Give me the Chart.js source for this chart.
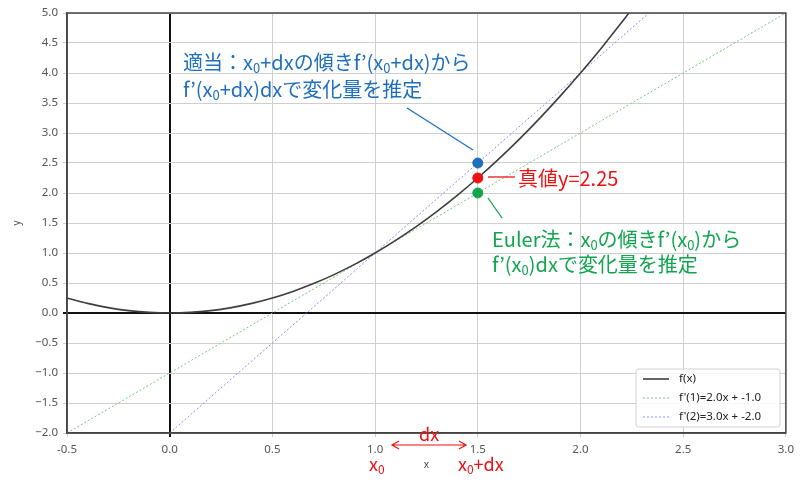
<!DOCTYPE html>
<html>
<head>
<meta charset="utf-8">
<script src="https://cdn.jsdelivr.net/npm/chart.js@4"></script>
<style>
  html, body { margin: 0; padding: 0; background: #fff; }
  #wrap { width: 800px; height: 486px; }
</style>
</head>
<body>
<div id="wrap"><canvas id="c" width="800" height="486"></canvas></div>
<script>
const curveX = [-0.5, -0.4, -0.3, -0.2, -0.1, 0.0, 0.1, 0.2, 0.3, 0.4, 0.5, 0.6, 0.7, 0.8, 0.9, 1.0,
  1.1, 1.2, 1.3, 1.4, 1.5, 1.6, 1.7, 1.8, 1.9, 2.0, 2.1, 2.2, 2.3];
const curveY = [0.25, 0.16, 0.09, 0.04, 0.01, 0.0, 0.01, 0.04, 0.09, 0.16, 0.25, 0.36, 0.49, 0.64, 0.81, 1.0,
  1.21, 1.44, 1.69, 1.96, 2.25, 2.56, 2.89, 3.24, 3.61, 4.0, 4.41, 4.84, 5.29];

// tangent lines (end points)
const eulerX = [-0.5, 3.0];
const eulerY = [-2.0, 5.0];
const midX = [0.0, 2.3333];
const midY = [-2.0, 5.0];

// marked points at x0+dx
const markX = [1.5, 1.5, 1.5];
const markY = [2.5, 2.25, 2.0];
const markColors = ['#1f6fbf', '#ee1111', '#12a550'];

const legendLabels = ['f(x)', "f'(1)=2.0x + -1.0", "f'(2)=3.0x + -2.0"];

const xTicks = [-0.5, 0.0, 0.5, 1.0, 1.5, 2.0, 2.5, 3.0];
const yTicks = [-2.0, -1.5, -1.0, -0.5, 0.0, 0.5, 1.0, 1.5, 2.0, 2.5, 3.0, 3.5, 4.0, 4.5, 5.0];

const zip = (xs, ys) => xs.map((x, i) => ({ x, y: ys[i] }));

const JP = '"Noto Sans CJK JP", "Noto Sans", sans-serif';
const BLUE = '#1f6fbf', RED = '#ee1111', GREEN = '#12a550';

// draw text pieces, second element true = subscript
function drawRich(ctx, parts, x, y, size, color) {
  ctx.save();
  ctx.fillStyle = color;
  ctx.textBaseline = 'middle';
  ctx.textAlign = 'left';
  let cx = x;
  for (const [t, sub] of parts) {
    ctx.font = (sub ? Math.round(size * 0.65) : size) + 'px ' + JP;
    ctx.fillText(t, cx, sub ? y + size * 0.3 : y);
    cx += ctx.measureText(t).width;
  }
  ctx.restore();
  return cx;
}

const decor = {
  id: 'decor',
  afterDatasetsDraw(chart) {
    const { ctx, chartArea: a, scales: { x, y } } = chart;
    ctx.save();
    // frame top/right
    ctx.strokeStyle = '#444';
    ctx.lineWidth = 1.5;
    ctx.strokeRect(a.left, a.top, a.right - a.left, a.bottom - a.top);

    // axis titles
    ctx.fillStyle = '#444';
    ctx.font = '10px "Noto Sans", sans-serif';
    ctx.textAlign = 'center';
    ctx.textBaseline = 'middle';
    ctx.fillText('x', x.getPixelForValue(1.25), 465);
    ctx.save();
    ctx.translate(17, y.getPixelForValue(1.5));
    ctx.rotate(-Math.PI / 2);
    ctx.fillText('y', 0, 0);
    ctx.restore();

    // legend
    const lx = 636, ly = 369, lw = 144, lh = 58;
    ctx.fillStyle = 'rgba(255,255,255,0.85)';
    ctx.strokeStyle = '#d0d0d0';
    ctx.lineWidth = 1;
    ctx.beginPath();
    ctx.roundRect(lx, ly, lw, lh, 3);
    ctx.fill();
    ctx.stroke();
    chart.data.datasets.slice(0, 3).forEach((ds, i) => {
      const yy = ly + 10 + i * 19;
      ctx.strokeStyle = ds.borderColor;
      ctx.lineWidth = ds.borderWidth;
      ctx.setLineDash(ds.borderDash || []);
      ctx.beginPath();
      ctx.moveTo(lx + 7, yy);
      ctx.lineTo(lx + 33, yy);
      ctx.stroke();
      ctx.setLineDash([]);
      ctx.fillStyle = '#222';
      ctx.font = '11.5px "Noto Sans", sans-serif';
      ctx.textAlign = 'left';
      ctx.fillText(legendLabels[i], lx + 43, yy);
    });

    // blue annotation
    drawRich(ctx, [['適当：x'], ['0', true], ['+dxの傾きf’(x'], ['0', true], ['+dx)から']], 183, 62, 20, BLUE);
    drawRich(ctx, [['f’(x'], ['0', true], ['+dx)dxで変化量を推定']], 183, 89, 20, BLUE);
    ctx.strokeStyle = BLUE;
    ctx.lineWidth = 1.3;
    ctx.beginPath();
    ctx.moveTo(407, 108);
    ctx.lineTo(473, 150);
    ctx.stroke();

    // red annotation
    ctx.strokeStyle = RED;
    ctx.beginPath();
    ctx.moveTo(488, 177);
    ctx.lineTo(515, 177);
    ctx.stroke();
    drawRich(ctx, [['真値y=2.25']], 518, 178, 20, RED);

    // green annotation
    ctx.strokeStyle = GREEN;
    ctx.beginPath();
    ctx.moveTo(488, 198);
    ctx.lineTo(502, 218);
    ctx.stroke();
    drawRich(ctx, [['Euler法：x'], ['0', true], ['の傾きf’(x'], ['0', true], [')から']], 492, 239, 20, GREEN);
    drawRich(ctx, [['f’(x'], ['0', true], [')dxで変化量を推定']], 492, 264, 20, GREEN);

    // dx arrow below axis
    ctx.strokeStyle = RED;
    ctx.lineWidth = 1.2;
    const ay = 445, ax0 = 392, ax1 = 466;
    ctx.beginPath();
    ctx.moveTo(ax0, ay); ctx.lineTo(ax1, ay);
    ctx.moveTo(ax0 + 7, ay - 4); ctx.lineTo(ax0, ay); ctx.lineTo(ax0 + 7, ay + 4);
    ctx.moveTo(ax1 - 7, ay - 4); ctx.lineTo(ax1, ay); ctx.lineTo(ax1 - 7, ay + 4);
    ctx.stroke();
    drawRich(ctx, [['dx']], 419, 434, 18, RED);
    drawRich(ctx, [['x'], ['0', true]], 369, 464, 18, RED);
    drawRich(ctx, [['x'], ['0', true], ['+dx']], 458, 464, 18, RED);
    ctx.restore();
  }
};

new Chart(document.getElementById('c'), {
  type: 'scatter',
  data: {
    datasets: [
      { data: zip(curveX, curveY), showLine: true, borderColor: '#3e3e3e', borderWidth: 1.6,
        pointRadius: 0, tension: 0.3, order: 1 },
      { data: zip(eulerX, eulerY), showLine: true, borderColor: '#7cc47c', borderWidth: 1,
        borderDash: [2, 2], pointRadius: 0, order: 3 },
      { data: zip(midX, midY), showLine: true, borderColor: '#8c8cff', borderWidth: 1,
        borderDash: [2, 2], pointRadius: 0, order: 2 },
      { data: zip(markX, markY), showLine: false, pointRadius: 5, pointHoverRadius: 5,
        pointBackgroundColor: markColors, pointBorderColor: markColors, order: 0 }
    ]
  },
  options: {
    responsive: false,
    animation: false,
    layout: { padding: { top: 13, right: 13, left: 0, bottom: 0 } },
    plugins: { legend: { display: false }, tooltip: { enabled: false } },
    scales: {
      x: {
        type: 'linear', min: -0.5, max: 3.0,
        afterBuildTicks: s => { s.ticks = xTicks.map(v => ({ value: v })); },
        afterFit: s => { s.height = 53; },
        ticks: { color: '#555', font: { size: 11.5, family: '"Noto Sans", sans-serif' }, padding: 6,
          maxRotation: 0, callback: v => v.toFixed(1) },
        grid: {
          color: c => c.tick && c.tick.value === 0 ? '#111' : '#cfcfcf',
          lineWidth: c => c.tick && c.tick.value === 0 ? 2 : 1,
          drawTicks: true, tickLength: 4
        },
        border: { color: '#444', width: 1.5 }
      },
      y: {
        type: 'linear', min: -2.0, max: 5.0,
        afterBuildTicks: s => { s.ticks = yTicks.map(v => ({ value: v })); },
        afterFit: s => { s.width = 67; },
        ticks: { color: '#555', font: { size: 11.5, family: '"Noto Sans", sans-serif' }, padding: 5,
          callback: v => v.toFixed(1).replace('-', '\u2212') },
        grid: {
          color: c => c.tick && c.tick.value === 0 ? '#111' : '#cfcfcf',
          lineWidth: c => c.tick && c.tick.value === 0 ? 2 : 1,
          drawTicks: true, tickLength: 4
        },
        border: { color: '#444', width: 1.5 }
      }
    }
  },
  plugins: [decor]
});
</script>
</body>
</html>
